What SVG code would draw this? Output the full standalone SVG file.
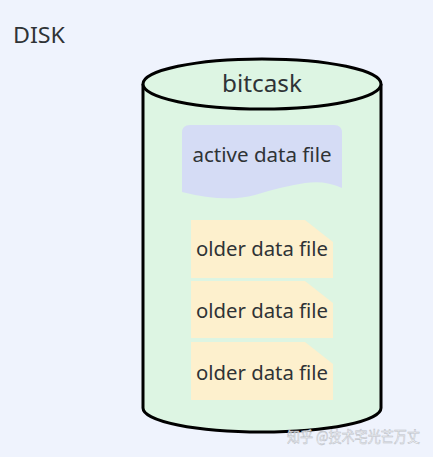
<svg xmlns="http://www.w3.org/2000/svg" width="433" height="457" viewBox="0 0 433 457">
<style>
.t{font-family:"Noto Sans","Liberation Sans",sans-serif;fill:#2f3336;text-anchor:middle}
.older{fill:#fdf0cd}
</style>
<rect width="433" height="457" fill="#eff3fd"/>
<text x="13" y="43" font-family="Noto Sans, Liberation Sans, sans-serif" font-size="22" fill="#2f3336" textLength="52" lengthAdjust="spacingAndGlyphs">DISK</text>
<g id="bitcask">
<path d="M143,84 L143,408 A119,24 0 0 0 381,408 L381,84" fill="#ddf5e3" stroke="#000" stroke-width="3"/>
<ellipse cx="262" cy="84" rx="119" ry="25" fill="#ddf5e3" stroke="#000" stroke-width="3"/>
<text class="t" x="262" y="92" font-size="24" textLength="80" lengthAdjust="spacingAndGlyphs">bitcask</text>
</g>
<g id="active">
<path d="M190,125 L334,125 Q342,125 342,133 L342,188 Q325,180 305,183 Q280,187 255,195 Q225,203 182,192 L182,133 Q182,125 190,125 Z" fill="#d5dcf5"/>
<text class="t" x="262" y="162" font-size="20.5" textLength="139" lengthAdjust="spacingAndGlyphs">active data file</text>
</g>
<g id="older1">
<path class="older" d="M191,220 L305,220 L333,242 L333,278 L191,278 Z"/>
<text class="t" x="262" y="256" font-size="20.5" textLength="132" lengthAdjust="spacingAndGlyphs">older data file</text>
</g>
<g id="older2">
<path class="older" d="M191,281 L305,281 L333,303 L333,338 L191,338 Z"/>
<text class="t" x="262" y="318" font-size="20.5" textLength="132" lengthAdjust="spacingAndGlyphs">older data file</text>
</g>
<g id="older3">
<path class="older" d="M191,342 L305,342 L333,364 L333,400 L191,400 Z"/>
<text class="t" x="262" y="380" font-size="20.5" textLength="132" lengthAdjust="spacingAndGlyphs">older data file</text>
</g>
<g id="connectors"></g>
<text x="287" y="442" font-family="Noto Sans CJK SC, sans-serif" font-size="15" fill="#ffffff" stroke="#b8bcc4" stroke-width="0.6" opacity="0.9" textLength="133" lengthAdjust="spacingAndGlyphs">知乎 @技术宅光芒万丈</text>
</svg>
